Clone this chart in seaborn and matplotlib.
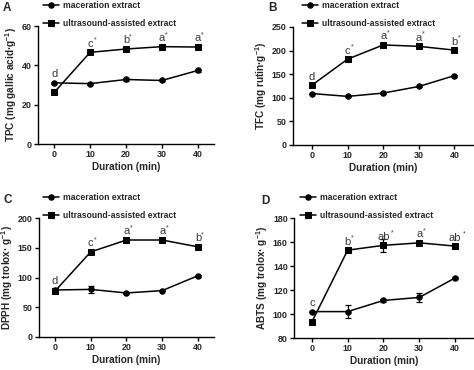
import pandas as pd
import matplotlib
matplotlib.use("Agg")
import matplotlib.pyplot as plt
import seaborn as sns

durations = [0, 10, 20, 30, 40]
labels = ["maceration extract", "ultrasound-assisted extract"]

tpc_mac = [31.1, 30.7, 32.8, 32.3, 37.4]
tpc_us = [26.2, 46.6, 48.3, 49.5, 49.3]
tpc_mac_sd = [0.5, 0.5, 0.6, 0.5, 0.7]
tpc_us_sd = [0.6, 0.7, 0.6, 0.5, 0.6]
tpc_letters = ["d", "c", "b", "a", "a"]

tfc_mac = [109, 103, 110, 124, 147]
tfc_us = [127, 182, 212, 209, 201]
tfc_mac_sd = [2, 2, 2, 2, 2]
tfc_us_sd = [2, 3, 3, 3, 3]
tfc_letters = ["d", "c", "a", "a", "b"]

dpph_mac = [79, 80, 74, 78, 103]
dpph_us = [77, 143, 163, 163, 151.5]
dpph_mac_sd = [2, 6, 1.5, 1.5, 2]
dpph_us_sd = [3, 2, 2, 2, 2]
dpph_letters = ["d", "c", "a", "a", "b"]

abts_mac = [102, 102, 111.3, 113.8, 130]
abts_us = [93.4, 153.2, 157.2, 159.3, 156.6]
abts_mac_sd = [0.6, 5.7, 1, 3.8, 1]
abts_us_sd = [1.2, 1, 5.2, 1.2, 1]
abts_letters = ["c", "b", "ab", "a", "ab"]

sns.set_style("ticks")
plt.rcParams["font.family"] = ["Liberation Sans", "DejaVu Sans"]
plt.rcParams["mathtext.default"] = "regular"

fig = plt.figure(figsize=(4.74, 3.70), dpi=100)
W, H = 474.0, 370.0


def make_ax(x0, x1, ytop, ybot):
    return fig.add_axes([x0 / W, 1 - ybot / H, (x1 - x0) / W, (ybot - ytop) / H])


panels = [
    dict(ax=make_ax(38, 214, 26, 144), xlim=(-4.5, 44.5), ylim=(0, 60), yticks=[0, 20, 40, 60],
         mac=tpc_mac, us=tpc_us, mac_sd=tpc_mac_sd, us_sd=tpc_us_sd, letters=tpc_letters,
         ylabel="TPC (mg gallic acid·g$^{-1}$)", tag="A", tagpos=(3, 8), legpos=(43, 0.8)),
    dict(ax=make_ax(292.5, 474, 27, 145), xlim=(-5.5, 45.5), ylim=(0, 250), yticks=[0, 50, 100, 150, 200, 250],
         mac=tfc_mac, us=tfc_us, mac_sd=tfc_mac_sd, us_sd=tfc_us_sd, letters=tfc_letters,
         ylabel="TFC (mg rutin·g$^{-1}$)", tag="B", tagpos=(268, 8), legpos=(302, 0.8)),
    dict(ax=make_ax(38.5, 214, 218, 337), xlim=(-4.6, 44.5), ylim=(0, 200), yticks=[0, 50, 100, 150, 200],
         mac=dpph_mac, us=dpph_us, mac_sd=dpph_mac_sd, us_sd=dpph_us_sd, letters=dpph_letters,
         ylabel="DPPH (mg trolox· g$^{-1}$)", tag="C", tagpos=(4, 200), legpos=(43, 193.2)),
    dict(ax=make_ax(294, 474, 218, 338), xlim=(-5.0, 45.3), ylim=(80, 180), yticks=[80, 100, 120, 140, 160, 180],
         mac=abts_mac, us=abts_us, mac_sd=abts_mac_sd, us_sd=abts_us_sd, letters=abts_letters,
         ylabel="ABTS (mg trolox· g$^{-1}$)", tag="D", tagpos=(261, 201), legpos=(300, 193.2)),
]

for p in panels:
    ax = p["ax"]
    df = pd.DataFrame({
        "Duration": durations * 2,
        "value": p["mac"] + p["us"],
        "extract": [labels[0]] * 5 + [labels[1]] * 5,
    })
    sns.lineplot(data=df, x="Duration", y="value", style="extract",
                 markers={labels[0]: "o", labels[1]: "s"}, dashes=False,
                 color="black", linewidth=1.1, markersize=3.9, markeredgecolor="black",
                 errorbar=None, ax=ax, clip_on=False, zorder=3)
    ax.errorbar(durations, p["mac"], yerr=p["mac_sd"], fmt="none", ecolor="black",
                elinewidth=0.9, capsize=2.2, capthick=0.9, clip_on=False, zorder=2)
    ax.errorbar(durations, p["us"], yerr=p["us_sd"], fmt="none", ecolor="black",
                elinewidth=0.9, capsize=2.2, capthick=0.9, clip_on=False, zorder=2)

    # significance letters
    for i, (d, let) in enumerate(zip(durations, p["letters"])):
        if i == 0:
            yv = max(p["mac"][0], p["us"][0])
        else:
            yv = p["us"][i]
        ax.annotate(let, (d, yv), xytext=(0, 4), textcoords="offset points",
                    ha="center", va="baseline", fontsize=8, color="#3a3a3a",
                    annotation_clip=False)
        if i > 0:
            ax.annotate("*", (d, yv), xytext=(3.1 * len(let) + 0.3, 7.6), textcoords="offset points",
                        ha="center", va="baseline", fontsize=5, color="#3a3a3a",
                        annotation_clip=False)

    ax.set_xlim(*p["xlim"])
    ax.set_ylim(*p["ylim"])
    ax.set_xticks(durations)
    ax.set_yticks(p["yticks"])
    ax.set_xlabel("Duration (min)", fontsize=7.2, fontweight="bold", labelpad=2)
    ax.set_ylabel(p["ylabel"], fontsize=7.2, fontweight="bold", labelpad=2)
    ax.tick_params(axis="both", labelsize=6.4, width=1.0, length=3, pad=1.5, color="black")
    for lbl in ax.get_xticklabels() + ax.get_yticklabels():
        lbl.set_fontweight("bold")
    for s in ["left", "bottom"]:
        ax.spines[s].set_linewidth(1.0)
        ax.spines[s].set_color("black")
    sns.despine(ax=ax)

    lx, ly = p["legpos"]
    leg = ax.legend(loc="upper left", bbox_to_anchor=(lx / W, 1 - ly / H), bbox_transform=fig.transFigure,
                    frameon=False, fontsize=6.2, handlelength=1.8, handletextpad=0.55,
                    labelspacing=1.05, borderaxespad=0, borderpad=0, title=None)
    for t in leg.get_texts():
        t.set_fontweight("bold")

    tx, ty = p["tagpos"]
    fig.text(tx / W, 1 - ty / H, p["tag"], fontsize=8.5, fontweight="bold", va="center", ha="left")

fig.savefig("out.png", dpi=100)
